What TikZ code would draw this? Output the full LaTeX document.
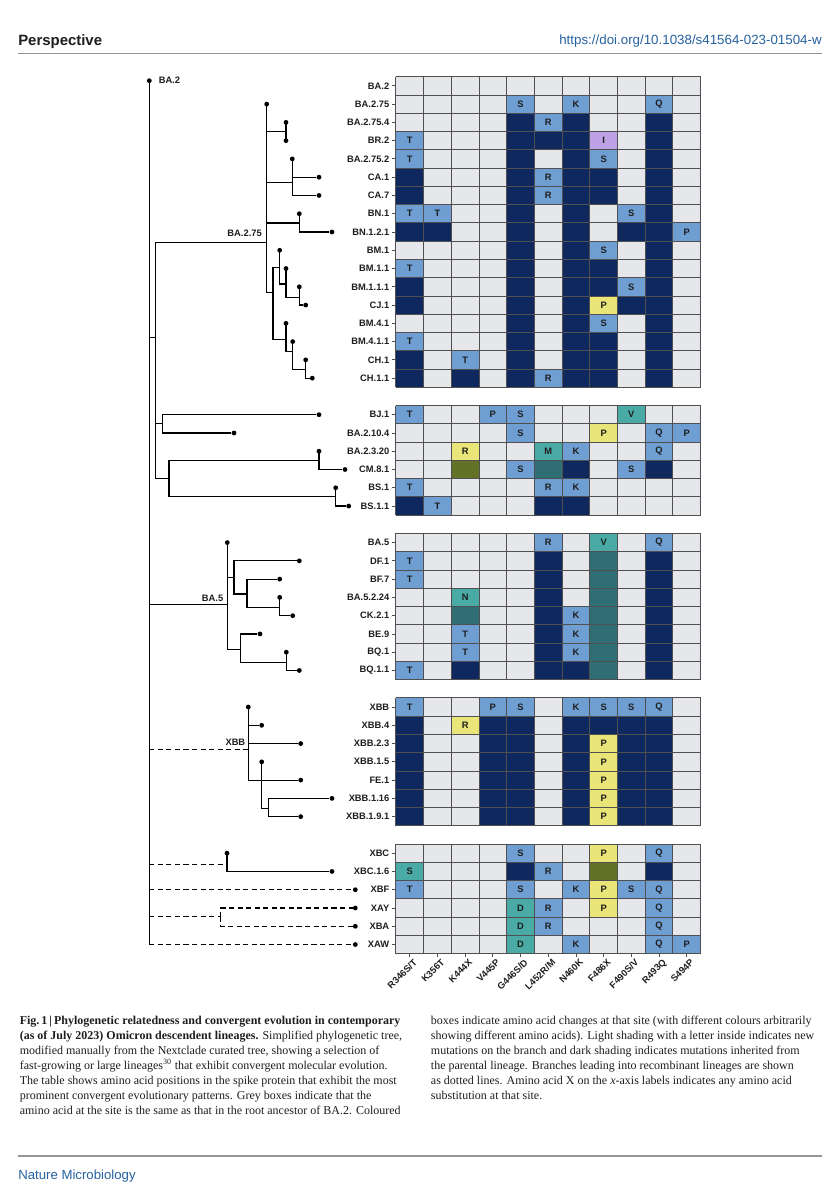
\documentclass[tikz,border=0pt]{standalone}
\usepackage{xcolor}
\usepackage{tikz}
\usepackage{fontspec}
\setmainfont{Liberation Serif}
\setsansfont{Liberation Sans}
\definecolor{mNavy}{RGB}{15,41,94}
\definecolor{mSky}{RGB}{110,158,210}
\definecolor{mGrey}{RGB}{229,231,235}
\definecolor{mLilac}{RGB}{190,160,228}
\definecolor{mLemon}{RGB}{234,229,120}
\definecolor{mOlive}{RGB}{100,114,40}
\definecolor{mTeal}{RGB}{74,170,166}
\definecolor{mDeep}{RGB}{46,110,116}
\definecolor{mLink}{RGB}{38,98,160}
\definecolor{mLine}{RGB}{80,80,80}
\definecolor{mRule}{RGB}{150,150,150}
\definecolor{mInk}{RGB}{30,30,30}

\begin{document}
\begin{tikzpicture}[x=0.75pt,y=-0.75pt,
  declare function={rt(\x)=76.7+18.27*\x; rc(\x)=85.83+18.27*\x; cl(\x)=395.9+27.7*(\x-1); cm(\x)=409.75+27.7*(\x-1);},
  rowlab/.style={font=\sffamily\bfseries\fontsize{7}{8}\selectfont,text=mInk,inner sep=0pt,anchor=east},
  collab/.style={font=\sffamily\bfseries\fontsize{7}{8}\selectfont,text=mInk,inner sep=0pt,rotate=45,anchor=north east},
  cladelab/.style={font=\sffamily\bfseries\fontsize{7}{8}\selectfont,text=mInk,inner sep=0pt},
  cellmark/.style={font=\sffamily\bfseries\fontsize{7}{8}\selectfont,text=mInk,inner sep=0pt},
  tipdot/.style={circle,fill=black,inner sep=0pt,minimum size=3.6pt},
  branch/.style={line width=0.9pt,black},
  recomb/.style={branch,dash pattern=on 3.8pt off 2.6pt},
  gridline/.style={draw=mLine,line width=0.65pt},
  tickline/.style={draw=mLine,line width=0.65pt},
  captext/.style={font=\fontsize{9}{11.25}\selectfont,text=mInk,align=left,inner sep=0pt},
  pagerule/.style={draw=mRule,line width=0.9pt}]
\path[use as bounding box,fill=white] (0,0) rectangle (839,1200);

% header and footer
\node[font=\sffamily\bfseries\fontsize{11.2}{13}\selectfont,text=mInk,inner sep=0pt,anchor=base west] (head) at (18,45.5) {Perspective};
\node[font=\sffamily\fontsize{10}{12}\selectfont,text=mLink,inner sep=0pt,anchor=base east] (doi) at (822,44.5) {https://doi.org/10.1038/s41564-023-01504-w};
\draw[pagerule] (18,53.3) -- (822,53.3);
\draw[pagerule] (18,1156) -- (822,1156);
\node[font=\sffamily\fontsize{9.9}{12}\selectfont,text=mLink,inner sep=0pt,anchor=base west] (journal) at (18,1179.5) {Nature Microbiology};

% table background
\foreach \ga/\gb in {0/17,18/24,25/33,34/41,42/48}
  \fill[mGrey] ({cl(1)},{rt(\ga)}) rectangle ({cl(12)},{rt(\gb)});

% coloured cells
\foreach \rw/\cn/\fc/\lt in {
  1/5/mSky/S, 1/7/mSky/K, 1/10/mSky/Q,
  2/5/mNavy/{}, 2/6/mSky/R, 2/7/mNavy/{}, 2/10/mNavy/{},
  3/1/mSky/T, 3/5/mNavy/{}, 3/6/mNavy/{}, 3/7/mNavy/{}, 3/8/mLilac/I, 3/10/mNavy/{},
  4/1/mSky/T, 4/5/mNavy/{}, 4/7/mNavy/{}, 4/8/mSky/S, 4/10/mNavy/{},
  5/1/mNavy/{}, 5/5/mNavy/{}, 5/6/mSky/R, 5/7/mNavy/{}, 5/8/mNavy/{}, 5/10/mNavy/{},
  6/1/mNavy/{}, 6/5/mNavy/{}, 6/6/mSky/R, 6/7/mNavy/{}, 6/8/mNavy/{}, 6/10/mNavy/{},
  7/1/mSky/T, 7/2/mSky/T, 7/5/mNavy/{}, 7/7/mNavy/{}, 7/9/mSky/S, 7/10/mNavy/{},
  8/1/mNavy/{}, 8/2/mNavy/{}, 8/5/mNavy/{}, 8/7/mNavy/{}, 8/9/mNavy/{}, 8/10/mNavy/{}, 8/11/mSky/P,
  9/5/mNavy/{}, 9/7/mNavy/{}, 9/8/mSky/S, 9/10/mNavy/{},
  10/1/mSky/T, 10/5/mNavy/{}, 10/7/mNavy/{}, 10/8/mNavy/{}, 10/10/mNavy/{},
  11/1/mNavy/{}, 11/5/mNavy/{}, 11/7/mNavy/{}, 11/8/mNavy/{}, 11/9/mSky/S, 11/10/mNavy/{},
  12/1/mNavy/{}, 12/5/mNavy/{}, 12/7/mNavy/{}, 12/8/mLemon/P, 12/9/mNavy/{}, 12/10/mNavy/{},
  13/5/mNavy/{}, 13/7/mNavy/{}, 13/8/mSky/S, 13/10/mNavy/{},
  14/1/mSky/T, 14/5/mNavy/{}, 14/7/mNavy/{}, 14/8/mNavy/{}, 14/10/mNavy/{},
  15/1/mNavy/{}, 15/3/mSky/T, 15/5/mNavy/{}, 15/7/mNavy/{}, 15/8/mNavy/{}, 15/10/mNavy/{},
  16/1/mNavy/{}, 16/3/mNavy/{}, 16/5/mNavy/{}, 16/6/mSky/R, 16/7/mNavy/{}, 16/8/mNavy/{}, 16/10/mNavy/{},
  18/1/mSky/T, 18/4/mSky/P, 18/5/mSky/S, 18/9/mTeal/V,
  19/5/mSky/S, 19/8/mLemon/P, 19/10/mSky/Q, 19/11/mSky/P,
  20/3/mLemon/R, 20/6/mTeal/M, 20/7/mSky/K, 20/10/mSky/Q,
  21/3/mOlive/{}, 21/5/mSky/S, 21/6/mDeep/{}, 21/7/mNavy/{}, 21/9/mSky/S, 21/10/mNavy/{},
  22/1/mSky/T, 22/6/mSky/R, 22/7/mSky/K,
  23/1/mNavy/{}, 23/2/mSky/T, 23/6/mNavy/{}, 23/7/mNavy/{},
  25/6/mSky/R, 25/8/mTeal/V, 25/10/mSky/Q,
  26/1/mSky/T, 26/6/mNavy/{}, 26/8/mDeep/{}, 26/10/mNavy/{},
  27/1/mSky/T, 27/6/mNavy/{}, 27/8/mDeep/{}, 27/10/mNavy/{},
  28/3/mTeal/N, 28/6/mNavy/{}, 28/8/mDeep/{}, 28/10/mNavy/{},
  29/3/mDeep/{}, 29/6/mNavy/{}, 29/7/mSky/K, 29/8/mDeep/{}, 29/10/mNavy/{},
  30/3/mSky/T, 30/6/mNavy/{}, 30/7/mSky/K, 30/8/mDeep/{}, 30/10/mNavy/{},
  31/3/mSky/T, 31/6/mNavy/{}, 31/7/mSky/K, 31/8/mDeep/{}, 31/10/mNavy/{},
  32/1/mSky/T, 32/3/mNavy/{}, 32/6/mNavy/{}, 32/7/mNavy/{}, 32/8/mDeep/{}, 32/10/mNavy/{},
  34/1/mSky/T, 34/4/mSky/P, 34/5/mSky/S, 34/7/mSky/K, 34/8/mSky/S, 34/9/mSky/S, 34/10/mSky/Q,
  35/1/mNavy/{}, 35/3/mLemon/R, 35/4/mNavy/{}, 35/5/mNavy/{}, 35/7/mNavy/{}, 35/8/mNavy/{}, 35/9/mNavy/{}, 35/10/mNavy/{},
  36/1/mNavy/{}, 36/4/mNavy/{}, 36/5/mNavy/{}, 36/7/mNavy/{}, 36/8/mLemon/P, 36/9/mNavy/{}, 36/10/mNavy/{},
  37/1/mNavy/{}, 37/4/mNavy/{}, 37/5/mNavy/{}, 37/7/mNavy/{}, 37/8/mLemon/P, 37/9/mNavy/{}, 37/10/mNavy/{},
  38/1/mNavy/{}, 38/4/mNavy/{}, 38/5/mNavy/{}, 38/7/mNavy/{}, 38/8/mLemon/P, 38/9/mNavy/{}, 38/10/mNavy/{},
  39/1/mNavy/{}, 39/4/mNavy/{}, 39/5/mNavy/{}, 39/7/mNavy/{}, 39/8/mLemon/P, 39/9/mNavy/{}, 39/10/mNavy/{},
  40/1/mNavy/{}, 40/4/mNavy/{}, 40/5/mNavy/{}, 40/7/mNavy/{}, 40/8/mLemon/P, 40/9/mNavy/{}, 40/10/mNavy/{},
  42/5/mSky/S, 42/8/mLemon/P, 42/10/mSky/Q,
  43/1/mTeal/S, 43/5/mNavy/{}, 43/6/mSky/R, 43/8/mOlive/{}, 43/10/mNavy/{},
  44/1/mSky/T, 44/5/mSky/S, 44/7/mSky/K, 44/8/mLemon/P, 44/9/mSky/S, 44/10/mSky/Q,
  45/5/mTeal/D, 45/6/mSky/R, 45/8/mLemon/P, 45/10/mSky/Q,
  46/5/mTeal/D, 46/6/mSky/R, 46/10/mSky/Q,
  47/5/mTeal/D, 47/7/mSky/K, 47/10/mSky/Q, 47/11/mSky/P}
{
  \fill[fill=\fc] ({cl(\cn)},{rt(\rw)}) rectangle ++(27.7,18.27);
  \node[cellmark] (m-\rw-\cn) at ({cm(\cn)},{rc(\rw)}) {\lt};
}

% grid lines
\foreach \ga/\gb in {0/17,18/24,25/33,34/41,42/48} {
  \foreach \rw in {\ga,...,\gb}
    \draw[gridline] ({cl(1)},{rt(\rw)}) -- ({cl(12)},{rt(\rw)});
  \foreach \cn in {1,...,12}
    \draw[gridline] ({cl(\cn)},{rt(\ga)}) -- ({cl(\cn)},{rt(\gb)});
}

% row labels
\foreach \rw/\lt in {0/BA.2, 1/BA.2.75, 2/BA.2.75.4, 3/BR.2, 4/BA.2.75.2, 5/CA.1, 6/CA.7, 7/BN.1, 8/BN.1.2.1,
  9/BM.1, 10/BM.1.1, 11/BM.1.1.1, 12/CJ.1, 13/BM.4.1, 14/BM.4.1.1, 15/CH.1, 16/CH.1.1,
  18/BJ.1, 19/BA.2.10.4, 20/BA.2.3.20, 21/CM.8.1, 22/BS.1, 23/BS.1.1,
  25/BA.5, 26/DF.1, 27/BF.7, 28/BA.5.2.24, 29/CK.2.1, 30/BE.9, 31/BQ.1, 32/BQ.1.1,
  34/XBB, 35/XBB.4, 36/XBB.2.3, 37/XBB.1.5, 38/FE.1, 39/XBB.1.16, 40/XBB.1.9.1,
  42/XBC, 43/XBC.1.6, 44/XBF, 45/XAY, 46/XBA, 47/XAW}
{
  \node[rowlab] (lab-\rw) at (389.5,{rc(\rw)}) {\lt};
  \draw[tickline] (391.5,{rc(\rw)}) -- ({cl(1)},{rc(\rw)});
}

% column labels
\foreach \cn/\lt in {1/{R346S/T}, 2/K356T, 3/K444X, 4/V445P, 5/{G446S/D}, 6/{L452R/M},
  7/N460K, 8/F486X, 9/{F490S/V}, 10/R493Q, 11/S494P}
{
  \draw[tickline] ({cm(\cn)},{rt(48)}) -- ({cm(\cn)},{rt(48)+3.5});
  \node[collab] (col-\cn) at ({cm(\cn)+3},{rt(48)+4.5}) {\lt};
}

% tree: lineage dots
\node[tipdot] (ba2) at (149.3,80.7) {};
\foreach \n/\px/\rw in {ba275/266.7/1, ba2754/286/2, br2/286/3, ba2752/292.3/4, ca1/319/5, ca7/319/6,
  bn1/299.3/7, bn121/332/8, bm1/279.7/9, bm11/286/10, bm111/299.3/11, cj1/305.7/12,
  bm41/286/13, bm411/292.7/14, ch1/305.7/15, ch11/312.3/16,
  bj1/319/18, ba2104/234/19, ba2320/319/20, cm81/345/21, bs1/335.7/22, bs11/348.7/23,
  ba5/227.3/25, df1/299.3/26, bf7/279.7/27, ba5224/279.7/28, ck21/292.7/29, be9/260/30, bq1/286.3/31, bq11/299.3/32,
  xbb/248.3/34, xbb4/261.7/35, xbb23/300.7/36, xbb15/261.7/37, fe1/300.7/38, xbb116/332/39, xbb191/300.7/40,
  xbc/227/42, xbc16/332/43, xbf/355.3/44, xay/355.3/45, xba/355.3/46, xaw/355.3/47}
  \node[tipdot] (\n) at (\px,{rc(\rw)}) {};

% tree: branch points
\coordinate (ja) at (155.7,337.3);
\coordinate (k275) at (266.7,242.7);
\coordinate (j1) at (286,131.7);
\coordinate (k2752) at (292.3,182.7);
\coordinate (kbn) at (299.3,223);
\coordinate (jbm) at (273,292.3);
\coordinate (kbm1) at (279.7,267.3);
\coordinate (kbm11) at (286,284);
\coordinate (kbm111) at (299.3,297.3);
\coordinate (kbm4) at (286,339.3);
\coordinate (kbm411) at (292.7,351.7);
\coordinate (kch1) at (305.7,369.3);
\coordinate (jb) at (162.3,423.3);
\coordinate (jc) at (169,478.3);
\coordinate (k2320) at (319,460.7);
\coordinate (kbs) at (335.7,496.7);
\coordinate (k5) at (227.3,604.7);
\coordinate (j5a) at (234,577.7);
\coordinate (j5b) at (247,594);
\coordinate (k5224) at (279.7,607.3);
\coordinate (j5c) at (240.3,649.3);
\coordinate (kbq1) at (286.3,662.7);
\coordinate (kxbb) at (248.3,749.3);
\coordinate (kx15) at (261.7,{rc(38)});
\coordinate (jx116) at (268.3,808.3);
\coordinate (kxbc) at (227,864.3);
\coordinate (jxay) at (220.7,916.7);

% tree: branches
\draw[branch] (ba2) -- (ba2 |- xaw);
\foreach \pa/\ch in {ba2/ja, ja/k275, k275/ba275, ba275/j1, j1/ba2754, j1/br2,
  ba275/k2752, k2752/ba2752, ba2752/ca1, ba2752/ca7, ba275/kbn, kbn/bn1, bn1/bn121,
  ba275/jbm, jbm/kbm1, kbm1/bm1, bm1/kbm11, kbm11/bm11, bm11/kbm111, kbm111/bm111, bm111/cj1,
  jbm/kbm4, kbm4/bm41, bm41/kbm411, kbm411/bm411, bm411/kch1, kch1/ch1, ch1/ch11,
  ja/jb, jb/bj1, jb/ba2104, ja/jc, jc/k2320, k2320/ba2320, ba2320/cm81, jc/kbs, kbs/bs1, bs1/bs11,
  ba2/k5, k5/ba5, ba5/j5a, j5a/df1, j5a/j5b, j5b/bf7, j5b/k5224, k5224/ba5224, ba5224/ck21,
  ba5/j5c, j5c/be9, j5c/kbq1, kbq1/bq1, bq1/bq11,
  kxbb/xbb, xbb/xbb4, xbb/xbb23, xbb/fe1, kx15/xbb15, xbb15/jx116, jx116/xbb116, jx116/xbb191,
  kxbc/xbc, xbc/xbc16}
  \draw[branch] (\pa) |- (\ch);
\draw[recomb] (ba2 |- kxbb) -- (kxbb);
\draw[recomb] (ba2 |- kxbc) -- (kxbc);
\draw[recomb] (ba2 |- xbf) -- (xbf);
\draw[recomb] (ba2 |- jxay) -- (jxay);
\draw[recomb] (jxay) |- (xay);
\draw[recomb] (jxay) |- (xba);
\draw[recomb] (ba2 |- xaw) -- (xaw);

% tree: clade labels
\node[cladelab,anchor=west] (clade-ba2) at (158.5,80.7) {BA.2};
\node[cladelab,anchor=east] (clade-ba275) at (262,233.3) {BA.2.75};
\node[cladelab,anchor=east] (clade-ba5) at (223.5,598) {BA.5};
\node[cladelab,anchor=east] (clade-xbb) at (245.5,742.3) {XBB};

% caption
\node[captext,anchor=north west] (capleft) at (19.5,1016) {%
\textbf{Fig.\,1\,|\,Phylogenetic relatedness and convergent evolution in contemporary}\\
\textbf{(as of July 2023) Omicron descendent lineages.} Simplified phylogenetic tree,\\
modified manually from the Nextclade curated tree, showing a selection of\\
fast-growing or large lineages\textsuperscript{30} that exhibit convergent molecular evolution.\\
The table shows amino acid positions in the spike protein that exhibit the most\\
prominent convergent evolutionary patterns. Grey boxes indicate that the\\
amino acid at the site is the same as that in the root ancestor of BA.2. Coloured};
\node[captext,anchor=north west] (capright) at (430.7,1016) {%
boxes indicate amino acid changes at that site (with different colours arbitrarily\\
showing different amino acids). Light shading with a letter inside indicates new\\
mutations on the branch and dark shading indicates mutations inherited from\\
the parental lineage. Branches leading into recombinant lineages are shown\\
as dotted lines. Amino acid X on the \textit{x}-axis labels indicates any amino acid\\
substitution at that site.};
\end{tikzpicture}
\end{document}
